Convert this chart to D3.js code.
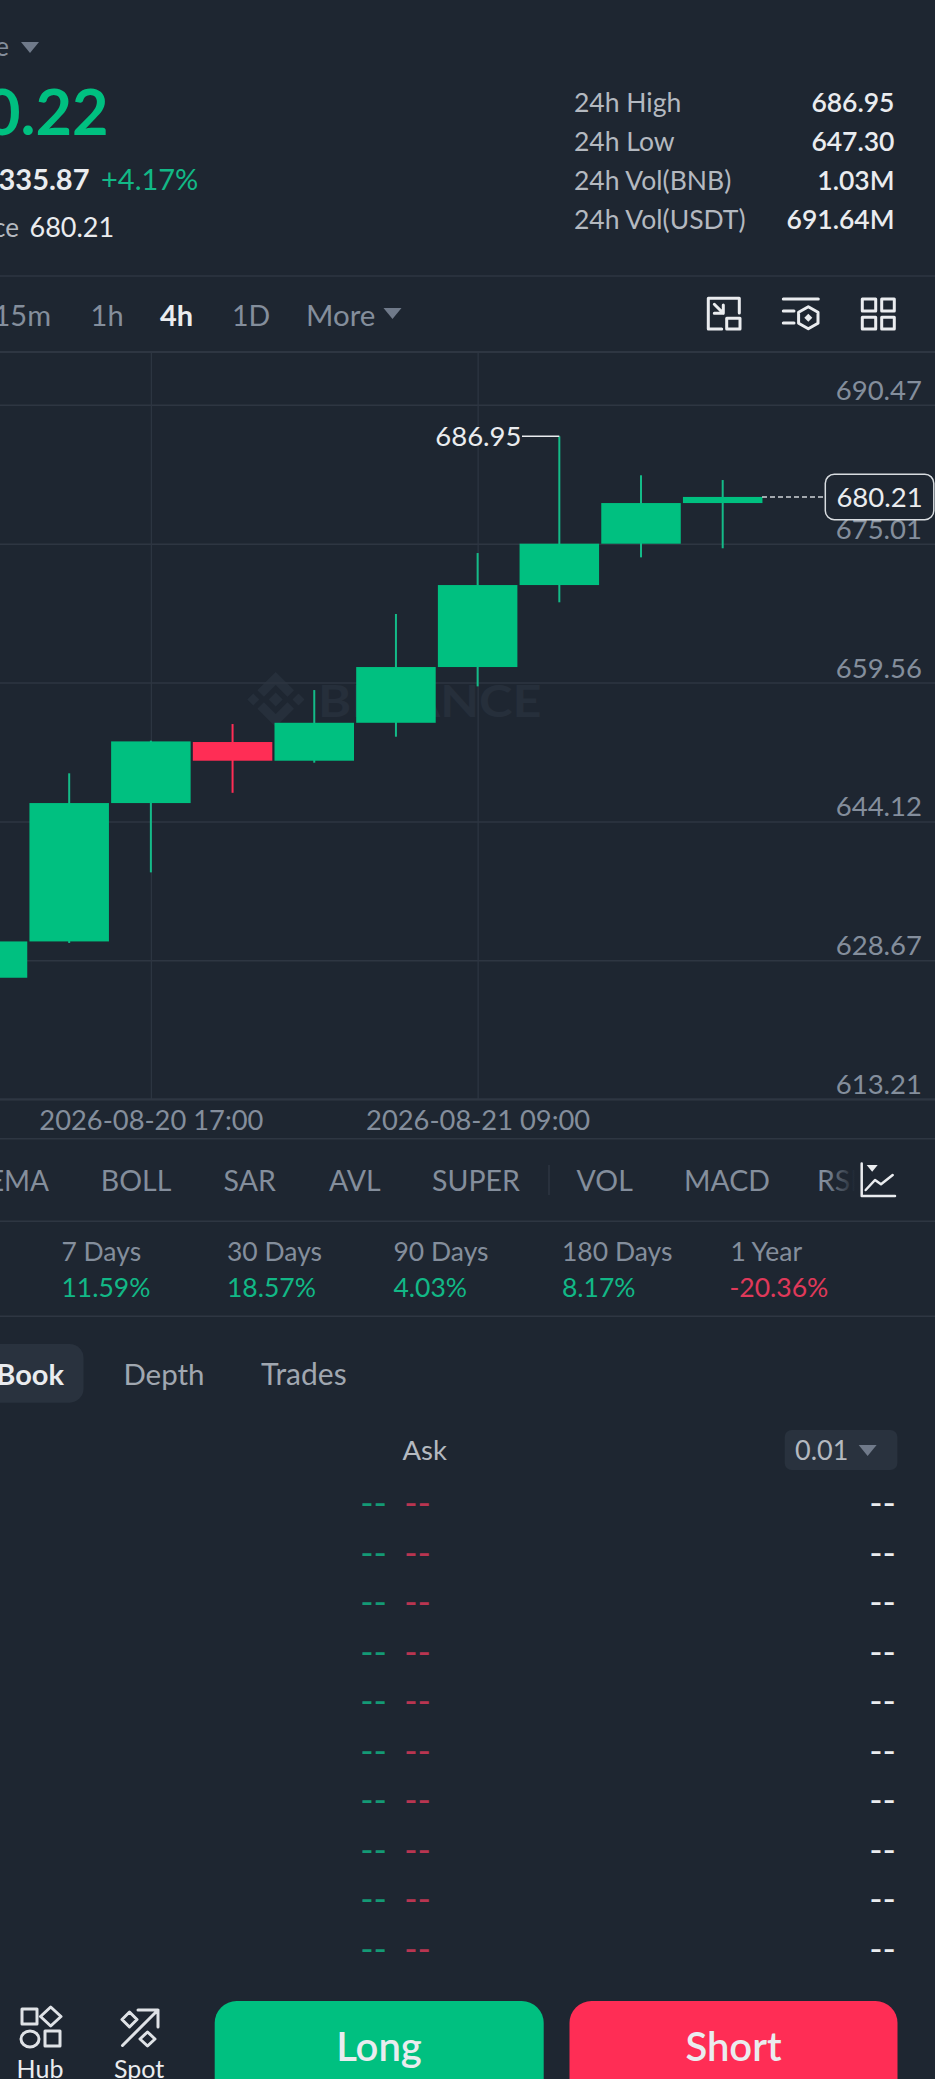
<!DOCTYPE html>
<html>
<head>
<meta charset="utf-8">
<script src="https://cdn.jsdelivr.net/npm/d3@7"></script>
<style>
  html, body { margin: 0; padding: 0; background: #1e2631; overflow: hidden; }
  svg { display: block; font-family: Lato, sans-serif; }
</style>
</head>
<body>
<svg id="chart" width="935" height="2079"></svg>
<script>
// candles, 4h each
const candleTimes = [
  "2026-08-20T09:00Z", "2026-08-20T13:00Z", "2026-08-20T17:00Z", "2026-08-20T21:00Z", "2026-08-21T01:00Z",
  "2026-08-21T05:00Z", "2026-08-21T09:00Z", "2026-08-21T13:00Z", "2026-08-21T17:00Z", "2026-08-21T21:00Z"
];
const opens  = [626.73, 630.77, 646.16, 652.95, 650.87, 655.09, 661.29, 670.41, 675.01, 679.53];
const highs  = [631.00, 649.47, 653.10, 654.95, 658.73, 667.19, 673.97, 686.95, 682.62, 682.09];
const lows   = [626.50, 630.60, 638.45, 647.30, 650.65, 653.54, 659.14, 668.49, 673.49, 674.50];
const closes = [630.77, 646.16, 653.02, 650.87, 655.09, 661.29, 670.41, 675.01, 679.53, 680.21];

const priceTicks = [690.47, 675.01, 659.56, 644.12, 628.67, 613.21];
const timeTicks = ["2026-08-20T17:00Z", "2026-08-21T09:00Z"];

const statLabels = ["24h High", "24h Low", "24h Vol(BNB)", "24h Vol(USDT)"];
const statValues = ["686.95", "647.30", "1.03M", "691.64M"];

const perfLabels = ["7 Days", "30 Days", "90 Days", "180 Days", "1 Year"];
const perfValues = ["11.59", "18.57", "4.03", "8.17", "-20.36"];

const lastPrice = 680.21;
const highMark = 686.95;
const bookRows = d3.range(10);

const GREEN = "#00c080", RED = "#ff2d55", BG = "#1e2631", PILL = "#29323e";
const GREY = "#848e9c", LIGHT = "#b4b9c0", WHITE = "#eaecef", LINE = "#2e3642";

const svg = d3.select("#chart");

const chartTop = 352, chartBottom = 1099.3;

const x = d3.scaleUtc()
  .domain([new Date(candleTimes[0]), new Date(candleTimes[9])])
  .range([-12.5, 722.7]);
const y = d3.scaleLinear()
  .domain([613.21, 690.47])
  .range([chartBottom, 404.7]);
const bodyWidth = 79.5;

function label(txt, px, py, size, fill, opts) {
  opts = opts || {};
  return svg.append("text")
    .attr("x", px).attr("y", py)
    .attr("font-size", size)
    .attr("fill", fill)
    .attr("font-weight", opts.weight || 400)
    .attr("text-anchor", opts.anchor || "start")
    .text(txt);
}

function hline(py, color, w) {
  svg.append("line").attr("x1", 0).attr("x2", 935).attr("y1", py).attr("y2", py)
    .attr("stroke", color).attr("stroke-width", w || 1.5);
}

function triangle(x0, x1, y0, y1, fill) {
  svg.append("path")
    .attr("d", `M${x0},${y0}L${x1},${y0}L${(x0 + x1) / 2},${y1}Z`)
    .attr("fill", fill);
}

function icon(d, color, w) {
  svg.append("path").attr("d", d).attr("fill", "none")
    .attr("stroke", color).attr("stroke-width", w || 3)
    .attr("stroke-linejoin", "round").attr("stroke-linecap", "round");
}

// ---- header ----
label("Mark Price", 9, 56, 26, GREY, {anchor: "end"});
triangle(21, 39, 42, 53, "#707a8a");
label("680.22", 108.5, 135, 63, GREEN, {anchor: "end", weight: 700});
label("335.87", 89.5, 190.3, 29, WHITE, {anchor: "end", weight: 700});
label("+4.17%", 101, 190.3, 29, "#12b886");
label("Mark Price", 19, 237, 26, LIGHT, {anchor: "end"});
label("680.21", 29.5, 237, 27, WHITE);

const statY = d3.scalePoint().domain(statLabels).range([112.3, 229]);
svg.append("g").selectAll("text").data(statLabels).enter().append("text")
  .attr("x", 574).attr("y", d => statY(d))
  .attr("font-size", 26.5).attr("fill", LIGHT)
  .text(d => d);
svg.append("g").selectAll("text").data(statValues).enter().append("text")
  .attr("x", 894.5).attr("y", (d, i) => statY(statLabels[i]))
  .attr("font-size", 26.5).attr("font-weight", 600).attr("text-anchor", "end").attr("fill", WHITE)
  .text(d => d);

hline(276, LINE);

// ---- interval tabs ----
label("15m", 51, 325.5, 29, GREY, {anchor: "end"});
label("1h", 90.6, 325.5, 29, GREY);
label("4h", 160, 325.5, 29, WHITE, {weight: 700});
label("1D", 232, 325.5, 28.5, GREY);
label("More", 306, 325.5, 29.5, GREY);
triangle(383.5, 401.5, 308, 319, "#707a8a");

icon("M721.7,329H708.3V298.3H739.3V313 M726.7,318.3H740V329H726.7Z M714.3,304.3L723.3,313.3 M723.3,305V313.3H714.3", WHITE);
icon("M783.3,299H818.3 M783.3,311H794 M783.3,323H794 M808.3,306.7L818,312.2V323.2L808.3,328.7L798.6,323.2V312.2Z", WHITE);
svg.append("path").attr("d", "M808.3,313.7L812.3,317.7L808.3,321.7L804.3,317.7Z").attr("fill", WHITE);
icon("M862.3,299H875.7V311H862.3Z M881.7,299H894.3V311H881.7Z M862.3,317.3H875.7V329H862.3Z M881.7,317.3H894.3V329H881.7Z", WHITE);

// ---- watermark, sits under the candles ----
const wm = svg.append("g").attr("fill", "#262f3b");
[[275.7, 699.5, 7], [253.3, 699.5, 6], [298.5, 699.5, 6]].forEach(d => {
  wm.append("path").attr("d", `M${d[0] - d[2]},${d[1]}L${d[0]},${d[1] - d[2]}L${d[0] + d[2]},${d[1]}L${d[0]},${d[1] + d[2]}Z`);
});
wm.append("path").attr("d", "M275.7,672L294,690.3L287.5,696.8L275.7,685L263.9,696.8L257.4,690.3Z");
wm.append("path").attr("d", "M275.7,727L294,708.7L287.5,702.2L275.7,714L263.9,702.2L257.4,708.7Z");
wm.append("text").attr("x", 318).attr("y", 716.7).attr("font-size", 43).attr("font-weight", 700)
  .attr("textLength", 223.5).attr("lengthAdjust", "spacingAndGlyphs").text("BINANCE");

// ---- axes ----
const yAxis = d3.axisRight(y)
  .tickValues(priceTicks)
  .tickSize(935)
  .tickFormat(d3.format(".2f"));
const yG = svg.append("g").call(yAxis);
yG.select(".domain").remove();
yG.selectAll("line").attr("stroke", LINE).attr("stroke-width", 1.5);
yG.selectAll("text")
  .attr("x", 922).attr("dy", -5.5).attr("y", 0)
  .attr("text-anchor", "end").attr("font-size", 27.5).attr("font-family", "Lato, sans-serif").attr("fill", GREY);

const xAxis = d3.axisBottom(x)
  .tickValues(timeTicks.map(d => new Date(d)))
  .tickSizeInner(-(chartBottom - chartTop))
  .tickSizeOuter(0)
  .tickFormat(d3.utcFormat("%Y-%m-%d %H:%M"));
const xG = svg.append("g").attr("transform", `translate(0,${chartBottom})`).call(xAxis);
xG.select(".domain").remove();
xG.selectAll("line").attr("stroke", LINE).attr("stroke-width", 1.2);
xG.selectAll("text")
  .attr("y", 31).attr("dy", 0)
  .attr("font-size", 27.3).attr("font-family", "Lato, sans-serif").attr("fill", GREY);

hline(chartTop, LINE, 2);
hline(chartBottom, LINE, 2);
hline(1138.7, LINE);

// ---- candles ----
const candles = candleTimes.map((t, i) => ({t: new Date(t), o: opens[i], h: highs[i], l: lows[i], c: closes[i]}));
const color = d => d.c >= d.o ? GREEN : RED;

svg.append("g").selectAll("line").data(candles).enter().append("line")
  .attr("x1", d => x(d.t)).attr("x2", d => x(d.t))
  .attr("y1", d => y(d.h)).attr("y2", d => y(d.l))
  .attr("stroke", d => d.c >= d.o ? "#14bb88" : RED)
  .attr("stroke-width", 2);

svg.append("g").selectAll("rect").data(candles).enter().append("rect")
  .attr("x", d => x(d.t) - bodyWidth / 2)
  .attr("width", bodyWidth)
  .attr("y", d => y(Math.max(d.o, d.c)))
  .attr("height", d => Math.abs(y(d.o) - y(d.c)))
  .attr("fill", color);

// high marker
const highCandle = candles[7];
svg.append("path")
  .attr("d", `M522,${y(highMark)}H${x(highCandle.t)}`)
  .attr("stroke", WHITE).attr("stroke-width", 1.5).attr("fill", "none");
label(d3.format(".2f")(highMark), 521.5, y(highMark) + 9.5, 27.5, WHITE, {anchor: "end"});

// last price tag
svg.append("line")
  .attr("x1", 762).attr("x2", 825).attr("y1", y(lastPrice)).attr("y2", y(lastPrice))
  .attr("stroke", "#cfd3d8").attr("stroke-width", 1.5).attr("stroke-dasharray", "5 3");
svg.append("rect")
  .attr("x", 825.3).attr("y", y(lastPrice) - 22.7).attr("width", 108.5).attr("height", 45.4).attr("rx", 9)
  .attr("fill", BG).attr("stroke", "#d8dce0").attr("stroke-width", 1.5);
label(d3.format(".2f")(lastPrice), 879.5, y(lastPrice) + 10, 27.5, WHITE, {anchor: "middle"});

// ---- indicator bar ----
label("EMA", 49, 1191.3, 28, GREY, {anchor: "end"});
[["BOLL", 100.8], ["SAR", 223.6], ["AVL", 329], ["SUPER", 432], ["VOL", 576.6], ["MACD", 684], ["RSI", 817]]
  .forEach(d => label(d[0], d[1], 1191.3, 28.5, GREY));
svg.append("line").attr("x1", 549).attr("x2", 549).attr("y1", 1165).attr("y2", 1195).attr("stroke", LINE).attr("stroke-width", 1.5);

const fade = svg.append("defs").append("linearGradient").attr("id", "fade");
fade.append("stop").attr("offset", "0").attr("stop-color", BG).attr("stop-opacity", 0);
fade.append("stop").attr("offset", "1").attr("stop-color", BG).attr("stop-opacity", 1);
svg.append("rect").attr("x", 825).attr("y", 1160).attr("width", 30).attr("height", 40).attr("fill", "url(#fade)");
svg.append("rect").attr("x", 855).attr("y", 1160).attr("width", 80).attr("height", 40).attr("fill", BG);

icon("M861.7,1163.5V1196H895 M865.7,1190L875,1180L881,1184.3L892.7,1175", WHITE, 2.5);
triangle(866.7, 877.7, 1165, 1171.7, WHITE);
hline(1221.3, LINE);

// ---- performance row ----
const perfX = d3.scaleOrdinal().domain(perfLabels).range([61.4, 227, 393.5, 562, 730.5]);
svg.append("g").selectAll("text").data(perfLabels).enter().append("text")
  .attr("x", d => perfX(d)).attr("y", 1261.3)
  .attr("font-size", 26.5).attr("fill", GREY).text(d => d);
svg.append("g").selectAll("text").data(perfValues).enter().append("text")
  .attr("x", (d, i) => perfX(perfLabels[i]) - (+d < 0 ? 1 : 0)).attr("y", 1296.5)
  .attr("font-size", 26.5)
  .attr("fill", d => +d >= 0 ? "#12b886" : "#e0395a")
  .text(d => d + "%");
hline(1316.3, LINE);

// ---- order book tabs ----
svg.append("rect").attr("x", -30).attr("y", 1344).attr("width", 113.5).attr("height", 58.7).attr("rx", 14).attr("fill", PILL);
label("Book", 64, 1384.5, 29, WHITE, {anchor: "end", weight: 700});
label("Depth", 123.4, 1384.5, 29.5, "#a0a7b0");
label("Trades", 261, 1384.5, 30, "#a0a7b0");

label("Ask", 402.5, 1459.5, 27.5, LIGHT);
svg.append("rect").attr("x", 784.7).attr("y", 1430).attr("width", 112.7).attr("height", 40).attr("rx", 7).attr("fill", PILL);
label("0.01", 795, 1459.5, 27, LIGHT);
triangle(858.7, 876.6, 1445, 1456, "#707a8a");

const rowY = d3.scalePoint().domain(bookRows).range([1504, 1950]);
function dashes(anchorX, fill, opacity) {
  svg.append("g").selectAll("text").data(bookRows).enter().append("text")
    .attr("x", anchorX).attr("y", d => rowY(d) + 12)
    .attr("font-size", 36).attr("text-anchor", "end")
    .attr("fill", fill).attr("opacity", opacity)
    .text("--");
}
dashes(387, "#12b886", 0.8);
dashes(431, "#e0395a", 0.8);
dashes(896, WHITE, 1);

// ---- bottom bar ----
icon("M22,2009H37V2024H22Z M40.5,2016.5L50.7,2007L61,2016.5L50.7,2026Z M39,2039A9,8 0 1 1 21,2039A9,8 0 1 1 39,2039Z M45,2031H60V2046H45Z", "#dfe2e6", 3);
icon("M122.5,2045.5L158,2010 M138,2010H158V2027 M129.5,2012L137,2019.5L129.5,2027L122,2019.5Z M147.5,2032L155,2039L147.5,2046L140,2039Z", "#dfe2e6", 3);
label("Hub", 40, 2078, 25, WHITE, {anchor: "middle"});
label("Spot", 139, 2078, 25, WHITE, {anchor: "middle"});

svg.append("rect").attr("x", 214.7).attr("y", 2001).attr("width", 329).attr("height", 110).attr("rx", 22).attr("fill", GREEN);
svg.append("rect").attr("x", 569.5).attr("y", 2001).attr("width", 328).attr("height", 110).attr("rx", 22).attr("fill", RED);
label("Long", 379, 2061, 40, WHITE, {anchor: "middle", weight: 600});
label("Short", 733.5, 2061, 40, WHITE, {anchor: "middle", weight: 600});
</script>
</body>
</html>
